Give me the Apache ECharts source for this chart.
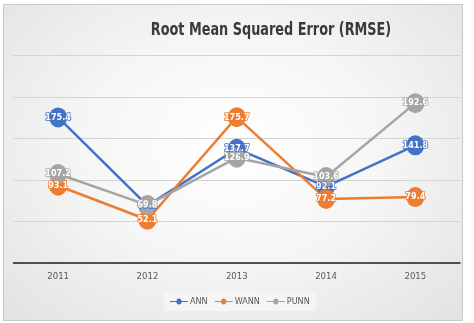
<!DOCTYPE html>
<html><head><meta charset="utf-8">
<script src="https://cdn.jsdelivr.net/npm/echarts@6/dist/echarts.min.js"></script>
<style>
html,body{margin:0;padding:0;background:#fff;}
#wrap{position:absolute;left:3px;top:4px;width:458px;height:315px;border:1px solid #c8c8c8;
background:radial-gradient(ellipse at 50% 45%, #ffffff 0%, #f6f6f6 45%, #e2e2e2 100%);}
#c{position:absolute;left:0;top:0;width:474px;height:323px;}
</style></head>
<body>
<div id="wrap"></div>
<div id="c"></div>
<script>
const title = 'Root Mean Squared Error (RMSE)';
const years = ['2011', '2012', '2013', '2014', '2015'];
const ann  = [175.4, 69.1, 137.7, 92.1, 141.8];
const wann = [93.1, 52.1, 175.7, 77.2, 79.4];
const punn = [107.2, 69.8, 126.9, 103.6, 192.6];
const seriesNames = ['ANN', 'WANN', 'PUNN'];
const colors = ['#4472C4', '#ED7D31', '#A5A5A5'];
const yMin = 0, yMax = 250, yStep = 50;

const chart = echarts.init(document.getElementById('c'), null, {renderer: 'canvas'});
const font = '"DejaVu Sans Condensed", "Liberation Sans Narrow", "Liberation Sans", sans-serif';
function mk(name, data, color) {
  return {
    name: name, type: 'line', data: data,
    symbol: 'circle', symbolSize: [18, 20],
    lineStyle: {color: color, width: 2.5},
    itemStyle: {color: color},
    label: {show: true, position: 'inside', overflow: 'none', color: '#fff', fontFamily: font,
      fontWeight: 'bold', fontSize: 9, textBorderColor: color, textBorderWidth: 1.5},
    labelLayout: {hideOverlap: false},
    emphasis: {disabled: true},
    animation: false
  };
}
chart.setOption({
  backgroundColor: 'transparent',
  animation: false,
  color: colors,
  graphic: [{
    type: 'text', x: 271, y: 31, scaleX: 0.84, silent: true,
    style: {text: title, font: 'bold 17px ' + font, fill: '#3a3a3a',
      align: 'center', verticalAlign: 'middle'}
  }],
  grid: {left: 13.5, right: 14, top: 55.5, bottom: 60},
  legend: {
    data: seriesNames, bottom: 12, left: 240, 
    itemWidth: 18, itemHeight: 7, itemGap: 7,
    backgroundColor: 'rgba(244,244,244,0.95)', padding: [5, 6],
    textStyle: {fontFamily: font, fontSize: 9, color: '#595959', padding: [0, 0, 0, -3]},
    icon: 'path://M0,3 L6.5,3 A2.5,2.5 0 1,1 11.5,3 L18,3 L18,4 L11.5,4 A2.5,2.5 0 1,1 6.5,4 L0,4 Z'
  },
  xAxis: {
    type: 'category', data: years, boundaryGap: true,
    axisLine: {lineStyle: {color: '#222', width: 1.5}},
    axisTick: {show: false},
    axisLabel: {fontFamily: font, fontSize: 9.5, color: '#595959', margin: 9}
  },
  yAxis: {
    type: 'value', min: yMin, max: yMax, interval: yStep,
    axisLabel: {show: false}, axisLine: {show: false}, axisTick: {show: false},
    splitLine: {lineStyle: {color: '#d4d4d4', width: 1}}
  },
  series: [mk(seriesNames[0], ann, colors[0]), mk(seriesNames[1], wann, colors[1]), mk(seriesNames[2], punn, colors[2])]
});
// center legend box around x=240
const lg = chart.getModel().getComponent('legend');
const view = chart.getViewOfComponentModel(lg);
const rect = view.group.getBoundingRect();
chart.setOption({legend: {left: Math.round(240 - rect.width / 2)}});
</script>
</body></html>
